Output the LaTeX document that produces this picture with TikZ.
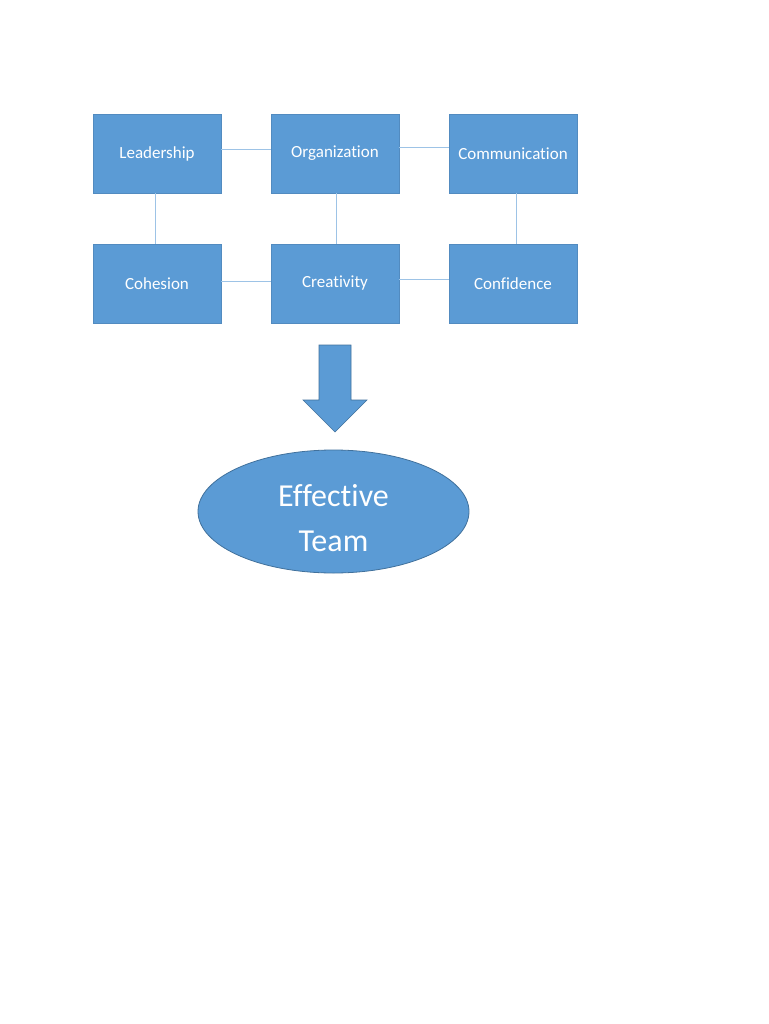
\documentclass[tikz,border=0pt]{standalone}
\usepackage{fontspec}
\setmainfont[Ligatures=NoCommon]{Carlito}
\usetikzlibrary{shapes.geometric, calc}
\definecolor{boxblue}{HTML}{5B9BD5}
\definecolor{edgeblue}{HTML}{41719C}
\definecolor{linkblue}{HTML}{9DC3E6}

\begin{document}
\begin{tikzpicture}[
  x=1pt, y=-1pt,
  quality/.style={rectangle, fill=boxblue, draw=boxblue!90!black, line width=0.4pt,
    minimum width=128pt, minimum height=79pt, inner sep=0pt,
    text=white, font=\fontsize{17}{20}\selectfont},
  link/.style={linkblue, line width=1pt},
  goal/.style={ellipse, fill=boxblue, draw=edgeblue, line width=0.8pt,
    minimum width=271pt, minimum height=123pt, inner sep=0pt,
    text=white, align=center, font=\fontsize{32}{45}\selectfont},
]

% ══════════════════════════════════════════════════════
% Page
% ══════════════════════════════════════════════════════
\useasboundingbox[fill=white] (0,0) rectangle (768,1024);

% ══════════════════════════════════════════════════════
% Six qualities
% ══════════════════════════════════════════════════════
\node[quality] (leadership)    at (157,153.5) {Leadership};
\node[quality] (organization)  at (335,153.5) {Organization};
\node[quality] (communication) at (513,153.5) {Communication};
\node[quality] (cohesion)      at (157,283.5) {Cohesion};
\node[quality] (creativity)    at (335,283.5) {Creativity};
\node[quality] (confidence)    at (513,283.5) {Confidence};

% ══════════════════════════════════════════════════════
% Thin links between the boxes
% ══════════════════════════════════════════════════════
\draw[link] ([yshift=3.5pt]leadership.east) -- ([yshift=3.5pt]organization.west);
\draw[link] ([yshift=5.5pt]organization.east) -- ([yshift=5.5pt]communication.west);
\draw[link] ([xshift=-2pt]leadership.south) -- ([xshift=-2pt]cohesion.north);
\draw[link] ([xshift=1pt]organization.south) -- ([xshift=1pt]creativity.north);
\draw[link] ([xshift=3pt]communication.south) -- ([xshift=3pt]confidence.north);
\draw[link] ([yshift=2.5pt]cohesion.east) -- ([yshift=2.5pt]creativity.west);
\draw[link] ([yshift=4.5pt]creativity.east) -- ([yshift=4.5pt]confidence.west);

% ══════════════════════════════════════════════════════
% Block arrow down to the goal
% ══════════════════════════════════════════════════════
\coordinate (tip) at (335,432);
\fill[boxblue] (319,345) -- (351,345) -- (351,400) -- (367,400) -- (tip)
  -- (303,400) -- (319,400) -- cycle;
\draw[edgeblue, line width=0.6pt, line join=miter] (319,345) -- (351,345) -- (351,400)
  -- (367,400) -- (tip) -- (303,400) -- (319,400) -- cycle;

% ══════════════════════════════════════════════════════
% Goal
% ══════════════════════════════════════════════════════
\node[goal] (team) at (333.5,511.5) {\rule{0pt}{36pt}Effective\\Team};

\end{tikzpicture}
\end{document}
